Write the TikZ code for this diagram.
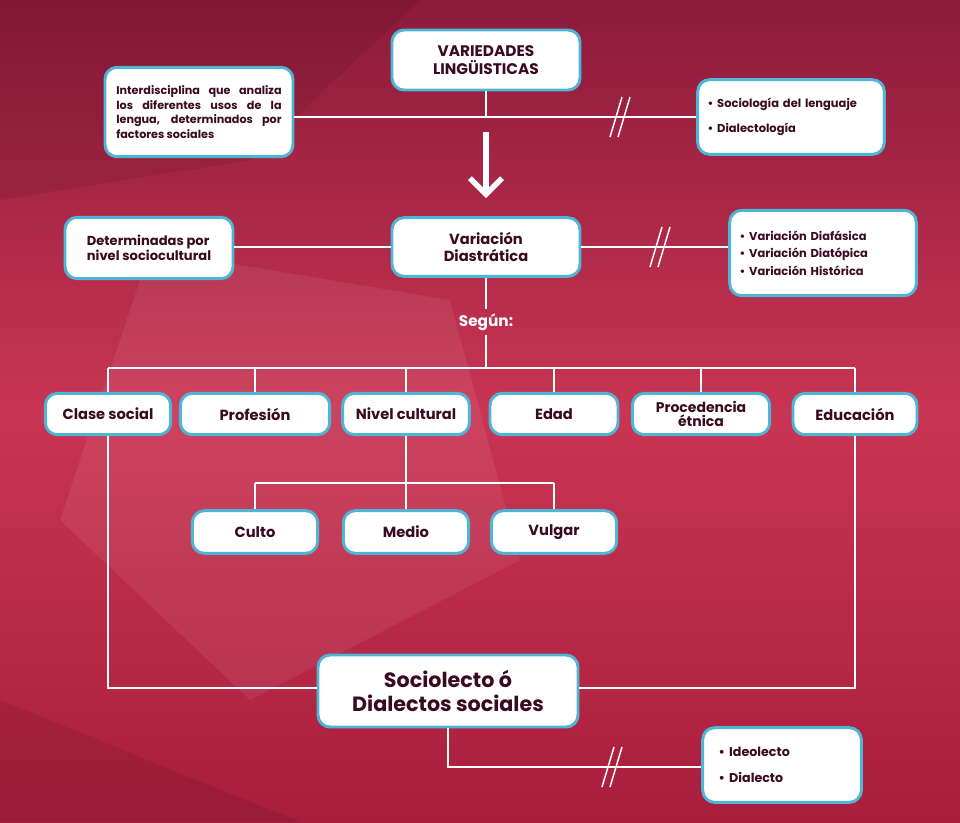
\documentclass[tikz,border=0pt]{standalone}
\usepackage{fontspec}
\setmainfont{Poppins}
\usetikzlibrary{arrows.meta,calc}
\definecolor{bgtop}{HTML}{8C1A3A}
\definecolor{bgmid}{HTML}{C93553}
\definecolor{bgbot}{HTML}{A81E3C}
\definecolor{edgec}{HTML}{4DB6D6}
\definecolor{txt}{HTML}{3A0A1E}
\tikzset{
  box/.style={draw=edgec,line width=2.2pt,fill=white,rounded corners=9pt,text=txt,font=\bfseries\fontsize{11}{12.5}\selectfont,align=center,inner sep=2pt},
  ln/.style={draw=white,line width=1.3pt},
  sl/.style={draw=white,line width=1.1pt},
}
\newcommand{\brk}[1]{\draw[sl] ($(#1)+(-10,20)$) -- ($(#1)+(2,-20)$); \draw[sl] ($(#1)+(-2,20)$) -- ($(#1)+(10,-20)$);}
\newcommand{\jl}[1]{\makebox[124pt][s]{#1}}
\begin{document}
\begin{tikzpicture}[x=0.75pt,y=-0.75pt]
\shade[top color=bgtop,bottom color=bgbot,middle color=bgmid] (0,0) rectangle (960,822);
\fill[white,opacity=0.07] (150,250) -- (450,300) -- (520,560) -- (250,700) -- (60,520) -- cycle;
\fill[black,opacity=0.08] (0,0) -- (420,0) -- (250,160) -- (0,200) -- cycle;
\fill[black,opacity=0.08] (0,822) -- (0,700) -- (300,822) -- cycle;
\useasboundingbox (0,0) rectangle (960,822);

\node[box,minimum width=141pt,minimum height=45pt,font=\bfseries\fontsize{11.5}{13.5}\selectfont] (var) at (486,60) {VARIEDADES\\LINGÜISTICAS};
\node[box,minimum width=141pt,minimum height=67pt,align=left,font=\bfseries\fontsize{8.4}{11}\selectfont] (int) at (199,112) {\jl{Interdisciplina que analiza}\\\jl{los diferentes usos de la}\\\jl{lengua, determinados por}\\factores sociales};
\node[box,minimum width=140pt,minimum height=56pt,text width=125pt,align=left,font=\bfseries\fontsize{8.6}{19}\selectfont] (soc) at (791,117) {• Sociología del lenguaje\\• Dialectología};
\node[box,minimum width=141pt,minimum height=44pt] (dia) at (486,247) {Variación\\Diastrática};
\node[box,minimum width=126pt,minimum height=46pt,align=left,font=\bfseries\fontsize{9.8}{11.5}\selectfont] (det) at (149,248) {Determinadas por\\nivel sociocultural};
\node[box,minimum width=140pt,minimum height=64pt,text width=125pt,align=left,font=\bfseries\fontsize{8.6}{13}\selectfont] (vars) at (823,253) {• Variación Diafásica\\• Variación Diatópica\\• Variación Histórica};
\node[text=white,font=\bfseries\fontsize{11.5}{13}\selectfont] (seg) at (486,322) {Según:};

\foreach \n/\x/\w/\t in {cla/108/94/Clase social, pro/255/112/Profesión, niv/406/95/Nivel cultural, eda/554/96/Edad, edu/855/93/Educación}
  \node[box,minimum width=\w pt,minimum height=31pt] (\n) at (\x,414) {\t};
\node[box,minimum width=103pt,minimum height=31pt,font=\bfseries\fontsize{10.5}{11}\selectfont] (prc) at (701,414) {Procedencia\\étnica};
\foreach \n/\x/\t in {cul/255/Culto, med/406/Medio, vul/554/Vulgar}
  \node[box,minimum width=94pt,minimum height=32pt] (\n) at (\x,532) {\t};
\node[box,minimum width=195pt,minimum height=54pt,font=\bfseries\fontsize{15.5}{18.5}\selectfont] (sln) at (448,691) {Sociolecto ó\\Dialectos sociales};
\node[box,minimum width=119pt,minimum height=56pt,text width=95pt,align=left,font=\bfseries\fontsize{9.5}{20}\selectfont] (ide) at (782,765) {• Ideolecto\\• Dialecto};

\coordinate (j1) at (486,117);
\draw[ln] (var.south) -- (j1);
\draw[ln] (int.east|-j1) -- (soc.west|-j1);
\brk{620,117}
\draw[white,line width=4pt,-{Straight Barb[length=12pt,width=24pt,line width=4pt]}] (486,132) -- (486,198);
\draw[ln] (det.east|-dia) -- (dia.west);
\draw[ln] (dia.east) -- (vars.west|-dia);
\brk{660,247}
\draw[ln] (dia.south) -- (seg.north);
\coordinate (bar) at (486,368);
\draw[ln] (seg.south) -- (bar);
\draw[ln] (108,368) -- (855,368);
\foreach \n in {cla,pro,niv,eda,prc,edu} \draw[ln] (\n.north|-bar) -- (\n.north);
\coordinate (b2) at (406,483);
\draw[ln] (niv.south) -- (b2);
\draw[ln] (255,483) -- (554,483);
\foreach \n in {cul,med,vul} \draw[ln] (\n.north|-b2) -- (\n.north);
\draw[ln] (cla.south) -- (108,688) -- (sln.west|-0,688);
\draw[ln] (edu.south) -- (855,688) -- (sln.east|-0,688);
\draw[ln] (sln.south) -- (448,767) -- (ide.west|-0,767);
\brk{612,767}
\end{tikzpicture}
\end{document}
